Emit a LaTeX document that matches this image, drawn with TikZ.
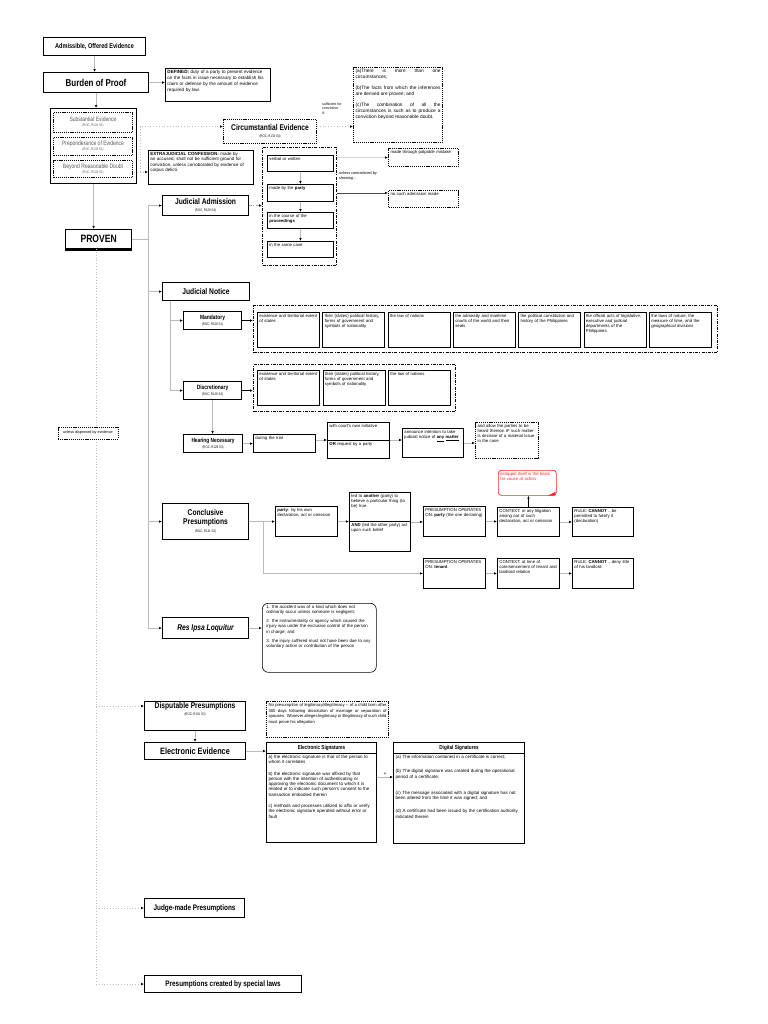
\documentclass[tikz,border=0pt]{standalone}
\usepackage{fontspec}
\setmainfont{Liberation Sans}
\newfontfamily\narrowfont{Liberation Sans}[FakeStretch=0.8]
\usetikzlibrary{arrows.meta,calc}
\hyphenpenalty=10000
\exhyphenpenalty=10000

\newcommand{\rocref}[1]{{\mdseries\fontsize{3.6}{4.2}\selectfont #1}}

\tikzset{
	conn/.style={draw=gray!55, line width=0.8bp, -{Latex[length=3bp,width=2.6bp,color=black]}},
	plain/.style={draw=gray!55, line width=0.8bp},
	dotconn/.style={draw=gray!50, line width=0.8bp, dotted, -{Latex[length=3bp,width=2.6bp,color=black]}},
	dotbox/.style={dash pattern=on 1.2bp off 0.9bp},
	dashdotbox/.style={dash pattern=on 3bp off 1.2bp on 1bp off 1.2bp},
	head/.style={draw, line width=1.1bp, anchor=north west, align=center, inner sep=1bp, font=\narrowfont\bfseries\fontsize{8.4}{9}\selectfont},
	cell/.style={draw, line width=0.9bp, anchor=north west, inner sep=2bp, align=left, text height=3bp, font=\fontsize{4.3}{5}\selectfont},
	stdbox/.style={draw, line width=1bp, dotbox, anchor=north west, minimum width=79bp, align=center, inner sep=0.5bp, text=gray!70!black, font=\narrowfont\fontsize{6.3}{6.6}\selectfont},
}

\begin{document}
\begin{tikzpicture}[x=1bp, y=-1bp]
	\fill[white] (0,0) rectangle (768,1024);
	\useasboundingbox (0,0) rectangle (768,1024);

	% burden of proof
	\node[head, font=\narrowfont\bfseries\fontsize{7}{8}\selectfont, minimum width=102bp, minimum height=18bp] (adm) at (43,37) {Admissible, Offered Evidence};
	\node[head, font=\narrowfont\bfseries\fontsize{10}{11}\selectfont, minimum width=105bp, minimum height=20bp] (bop) at (43,72) {Burden of Proof};
	\node[cell, font=\fontsize{4.6}{5.9}\selectfont, text width=101bp, text depth=26bp] (defined) at (165,68) {\textbf{DEFINED:} duty of a party to present evidence on the facts in issue necessary to establish his claim or defense by the amount of evidence required by law.};

	\node[draw, line width=1.2bp, anchor=north west, minimum width=86bp, minimum height=75bp] (stdgroup) at (50,108) {};
	\node[stdbox, minimum height=20bp] (subst) at (53,112) {Substantial Evidence\\[-1.5bp]\rocref{(ROC, R133 S5)}};
	\node[stdbox, minimum height=18bp] (prepon) at (53,137) {Preponderance of Evidence\\[-1.5bp]\rocref{(ROC, R133 S1)}};
	\node[stdbox, minimum height=17bp] (beyond) at (53,160) {Beyond Reasonable Doubt\\[-1.5bp]\rocref{(ROC, R133 S2)}};

	\node[head, dotbox, minimum width=93bp, minimum height=24bp] (circ) at (223,119) {Circumstantial Evidence\\[-2bp]\rocref{(ROC, R133 S4)}};
	\node[anchor=north west, inner sep=0pt, align=left, font=\fontsize{3.6}{4.2}\selectfont] (suffic) at (322,103) {sufficient for\\conviction\\if:};
	\node[cell, dotbox, line width=1.1bp, align=justify, font=\fontsize{4.8}{5.6}\selectfont, text width=85bp, text depth=68bp] (circreq) at (353,67) {(a)There is more than one circumstances;\\[6bp](b)The facts from which the inferences are derived are proven; and\\[6bp](c)The combination of all the circumstances is such as to produce a conviction beyond reasonable doubt.};
	\node[cell, font=\fontsize{4.5}{5.4}\selectfont, text width=101bp, text depth=27bp] (extra) at (148,150) {\textbf{EXTRAJUDICIAL CONFESSION:} made by an accused, shall not be sufficient ground for conviction, unless corroborated by evidence of corpus delicti.};

	% judicial admission
	\node[head, minimum width=86bp, minimum height=20bp] (jadm) at (162,195) {Judicial Admission\\[-2bp]\rocref{(ROC, R129 S4)}};
	\node[draw, dashdotbox, line width=1.1bp, anchor=north west, minimum width=74bp, minimum height=118bp] (admgroup) at (262,147) {};
	\node[cell, text width=62bp, text depth=9bp] (a1) at (267,155) {verbal or written};
	\node[cell, text width=62bp, text depth=10bp] (a2) at (267,184) {made by the \textbf{party}};
	\node[cell, text width=62bp, text depth=9bp] (a3) at (267,212) {in the course of the\\\textbf{proceedings}};
	\node[cell, text width=62bp, text depth=9bp] (a4) at (267,241) {in the same case};
	\node[cell, dotbox, line width=1.1bp, text width=66bp, text depth=11bp] (mistake) at (388,148) {made through palpable mistake};
	\node[cell, dotbox, line width=1.1bp, text width=66bp, text depth=10bp] (nosuch) at (388,190) {no such admission made};
	\node[anchor=north west, inner sep=0pt, align=left, font=\fontsize{3.8}{4.4}\selectfont] (unlesscon) at (339,172) {unless contradicted by\\showing...};

	\node[head, font=\narrowfont\bfseries\fontsize{10.7}{12}\selectfont, line width=1.3bp, minimum width=66bp, minimum height=19bp] (proven) at (65,229) {PROVEN};
	\draw[line width=2.4bp] (proven.south west) -- (proven.south east);

	% judicial notice
	\node[head, minimum width=87bp, minimum height=18bp] (jnot) at (162,282) {Judicial Notice};
	\node[head, font=\narrowfont\bfseries\fontsize{6.2}{7}\selectfont, minimum width=58bp, minimum height=18bp] (mand) at (183,311) {Mandatory\\[-1.5bp]\rocref{(ROC, R129 S1)}};
	\node[draw, dashdotbox, line width=1.1bp, anchor=north west, minimum width=464bp, minimum height=47bp] (mandgroup) at (253,305) {};
	\foreach \txt [count=\i from 0] in {{existence and territorial extent of states}, {their (states) political history, forms of government and symbols of nationality}, {the law of nations}, {the admiralty and maritime courts of the world and their seals}, {the political constitution and history of the Philippines}, {the official acts of legislative, executive and judicial departments of the Philippines.}, {the laws of nature, the measure of time, and the geographical divisions}}
		\node[cell, text width=58bp, text depth=28bp] (m\i) at ({257+65.3*\i},312) {\txt};

	\node[head, font=\narrowfont\bfseries\fontsize{6.2}{7}\selectfont, minimum width=58bp, minimum height=18bp] (disc) at (183,381) {Discretionary\\[-1.5bp]\rocref{(ROC, R129 S2)}};
	\node[draw, dashdotbox, line width=1.1bp, anchor=north west, minimum width=202bp, minimum height=47bp] (discgroup) at (253,364) {};
	\foreach \txt [count=\i from 0] in {{existence and territorial extent of states}, {their (states) political history, forms of government and symbols of nationality}, {the law of nations}}
		\node[cell, text width=58bp, text depth=28bp] (d\i) at ({257+65.5*\i},370) {\txt};

	\node[head, font=\narrowfont\bfseries\fontsize{6}{7}\selectfont, minimum width=59bp, minimum height=18bp] (hear) at (183,434) {Hearing Necessary\\[-1.5bp]\rocref{(ROC, R129 S3)}};
	\node[cell, text width=58bp, text depth=11bp] (trial) at (253,434) {during the trial};
	\node[cell, text width=58bp, text depth=11bp] (initA) at (327,422) {with court's own initiative};
	\node[cell, text width=58bp, text depth=11bp] (initB) at (327,440) {\textbf{OR} request by a party};
	\node[cell, text width=57bp, text depth=22bp] (announce) at (402,428) {announce intention to take judicial notice of \underline{\textbf{any}} \underline{\textbf{matter}}};
	\node[cell, dotbox, line width=1.1bp, text width=59bp, text depth=29bp] (allow) at (475,422) {and allow the parties to be heard thereon IF such matter is decisive of a material issue in the case};

	% conclusive presumptions
	\node[cell, draw=red!85, text=red!85, rounded corners=3bp, line width=0.7bp, text width=54bp, text depth=18bp] (estop) at (498,470) {estoppel itself is the basis for cause of action};
	\fill[red!85] ($(estop.south east)+(-9,0)$) -- ($(estop.south east)+(-1,-4)$) -- ($(estop.south east)+(-2,0)$) -- cycle;
	\node[head, minimum width=86bp, minimum height=36bp] (concl) at (162,503) {Conclusive\\Presumptions\\[-1bp]\rocref{(ROC, R131 S2)}};
	\node[cell, text width=58bp, text depth=23bp] (cparty) at (275,506) {\textbf{party}: by his own declaration, act or omission};
	\node[cell, text width=57bp, text depth=22bp] (ledA) at (349,492) {led to \textbf{another} (party) to believe a particular thing (to be) true};
	\node[cell, text width=57bp, text depth=23bp] (ledB) at (349,521) {\textbf{AND} (led the other party) act upon such belief};
	\node[cell, text width=58bp, text depth=23bp] (opparty) at (423,506) {PRESUMPTION OPERATES ON: \textbf{party} (the one declaring)};
	\node[cell, text width=58bp, text depth=22bp] (ctx1) at (497,507) {CONTEXT: in any litigation arising out of such declaration, act or omission};
	\node[cell, text width=57bp, text depth=22bp] (rule1) at (572,507) {RULE: \textbf{CANNOT} ...be permitted to falsify it (declaration)};
	\node[cell, text width=58bp, text depth=23bp] (optenant) at (423,558) {PRESUMPTION OPERATES ON: \textbf{tenant}};
	\node[cell, text width=58bp, text depth=23bp] (ctx2) at (497,558) {CONTEXT: at time of commencement of tenant and landlord relation};
	\node[cell, text width=57bp, text depth=23bp] (rule2) at (572,558) {RULE: \textbf{CANNOT} ...deny title of his landlord};

	% res ipsa loquitur
	\node[head, font=\narrowfont\bfseries\itshape\fontsize{8.4}{9}\selectfont, minimum width=86bp, minimum height=21bp] (resipsa) at (162,617) {Res Ipsa Loquitur};
	\node[cell, rounded corners=6bp, line width=0.6bp, inner xsep=4bp, font=\fontsize{4.4}{5.2}\selectfont, text width=106bp, text depth=62bp] (ripsareq) at (262,603) {1. the accident was of a kind which does not ordinarily occur unless someone is negligent;\\[4bp]2. the instrumentality or agency which caused the injury was under the exclusive control of the person in charge; and\\[4bp]3. the injury suffered must not have been due to any voluntary action or contribution of the person};

	% disputable presumptions and others
	\node[head, minimum width=101bp, minimum height=29bp] (disp) at (144,701) {Disputable Presumptions\\[-2bp]\rocref{(ROC, R131 S3)}\\[5bp]};
	\node[cell, dotbox, line width=1.1bp, align=justify, font=\fontsize{4.2}{5.6}\selectfont, text width=118bp, text depth=29bp] (nopresume) at (266,701) {No presumption of legitimacy/\allowbreak illegitimacy -- of a child born after 300 days following dissolution of marriage or separation of spouses. Whoever alleges legitimacy or illegitimacy of such child must prove his allegation};
	\node[head, font=\narrowfont\bfseries\fontsize{9.2}{10}\selectfont, minimum width=101bp, minimum height=17bp] (elev) at (144,742) {Electronic Evidence};
	\node[head, font=\narrowfont\bfseries\fontsize{5.8}{6}\selectfont, minimum width=110bp, minimum height=11bp] (esighead) at (266,742) {Electronic Signatures};
	\node[cell, line width=1.1bp, font=\fontsize{4.5}{5.3}\selectfont, text width=106bp, text depth=82bp] (esigbody) at (266,753) {a) the electronic signature is that of the person to whom it correlates\\[6bp]b) the electronic signature was affixed by that person with the intention of authenticating or approving the electronic document to which it is related or to indicate such person's consent to the transaction embodied therein\\[6bp]c) methods and processes utilized to affix or verify the electronic signature operated without error or fault};
	\node[head, font=\narrowfont\bfseries\fontsize{5.8}{6}\selectfont, minimum width=131bp, minimum height=11bp] (dsighead) at (393,742) {Digital Signatures};
	\node[cell, line width=1.1bp, font=\fontsize{4.5}{5.3}\selectfont, text width=127bp, text depth=83bp] (dsigbody) at (393,753) {(a) The information contained in a certificate is correct;\\[9bp](b) The digital signature was created during the operational period of a certificate;\\[11bp](c) The message associated with a digital signature has not been altered from the time it was signed; and\\[8bp](d) A certificate had been issued by the certification authority indicated therein};
	\node[head, font=\narrowfont\bfseries\fontsize{8}{9}\selectfont, minimum width=100bp, minimum height=19bp] (judge) at (144,898) {Judge-made Presumptions};
	\node[head, font=\narrowfont\bfseries\fontsize{8}{9}\selectfont, minimum width=157bp, minimum height=17bp] (special) at (144,975) {Presumptions created by special laws};

	% connectors
	\draw[conn] (adm.south) -- (adm.south |- bop.north);
	\draw[conn] (bop.east) -- (bop.east -| defined.west);
	\draw[conn] (bop.south) -- (bop.south |- stdgroup.north);
	\draw[conn] (stdgroup.south) -- (stdgroup.south |- proven.north);

	\coordinate (sbranch) at (140,172);
	\coordinate (circin) at ($(circ.west)+(0,-5)$);
	\coordinate (circout) at ($(circ.east)+(0,-5)$);
	\draw[gray!50, line width=0.8bp, dotted] (stdgroup.east |- sbranch) -- (sbranch);
	\draw[dotconn] (sbranch) |- (circin);
	\draw[dotconn] (sbranch) -- (sbranch -| extra.west);
	\draw[dotconn] (circout) -- (circout -| circreq.west);

	\draw[conn, draw=gray!70, dashdotbox] (jadm.east) -- (jadm.east -| admgroup.west);
	\draw[conn] (a1.south) -- (a1.south |- a2.north);
	\draw[conn] (a2.south) -- (a2.south |- a3.north);
	\draw[conn] (a3.south) -- (a3.south |- a4.north);
	\draw[conn, draw=gray!30] (admgroup.east |- mistake.west) -- (mistake.west);
	\draw[conn, draw=gray!60!black] (admgroup.east |- a2.east) -- (nosuch.west |- a2.east);

	\coordinate (trunk) at (148,0);
	\draw[plain] (proven.east) -- (trunk |- proven.east);
	\draw[plain] (trunk |- jadm.west) -- (trunk |- resipsa.west);
	\foreach \n in {jadm, jnot, concl, resipsa}
		\draw[conn] (trunk |- \n.west) -- (\n.west);

	\coordinate (ntrunk) at (170,0);
	\draw[plain] (ntrunk |- jnot.south) -- (ntrunk |- disc.west);
	\draw[conn] (ntrunk |- mand.west) -- (mand.west);
	\draw[conn] (ntrunk |- disc.west) -- (disc.west);
	\draw[conn, draw=black] (mand.east) -- (mand.east -| mandgroup.west);
	\draw[conn, draw=black] (disc.east) -- (disc.east -| discgroup.west);
	\draw[conn] (disc.south) -- (disc.south |- hear.north);
	\draw[conn] (hear.east) -- (hear.east -| trial.west);
	\draw[conn] (trial.east |- initB.north west) -- (initB.north west);
	\draw[conn] (initB.north east) -- (initB.north east -| announce.west);
	\draw[conn] (announce.east) -- (announce.east -| allow.west);

	\draw[conn] (concl.east) -- (concl.east -| cparty.west);
	\coordinate (cbranch) at (263,0);
	\draw[conn] (cbranch |- concl.east) |- (optenant.west);
	\draw[conn] (cparty.east) -- (cparty.east -| ledA.west);
	\draw[conn] (ledA.south east) -- (ledA.south east -| opparty.west);
	\draw[conn] (opparty.east) -- (opparty.east -| ctx1.west);
	\draw[conn] (ctx1.east) -- (ctx1.east -| rule1.west);
	\draw[conn, draw=black] (ctx1.north) -- (ctx1.north |- estop.south);
	\draw[conn] (optenant.east) -- (optenant.east -| ctx2.west);
	\draw[conn] (ctx2.east) -- (ctx2.east -| rule2.west);

	\draw[conn] (resipsa.east) -- (resipsa.east -| ripsareq.west);

	\coordinate (dtrunk) at (96,0);
	\coordinate (dispin) at ($(disp.north west)+(0,5)$);
	\draw[gray!50, line width=0.8bp, dotted] (dtrunk |- proven.south) -- (dtrunk |- special.west);
	\draw[dotconn] (dtrunk |- dispin) -- (dispin);
	\draw[dotconn] (dtrunk |- judge.west) -- (judge.west);
	\draw[dotconn] (dtrunk |- special.west) -- (special.west);
	\node[draw, dotbox, line width=1bp, fill=white, font=\fontsize{3.8}{4.5}\selectfont, minimum width=60bp, minimum height=12bp, inner sep=1bp] (unlessdis) at (88,433) {unless disproved by evidence};

	\draw[conn] (disp.south) -- (disp.south |- elev.north);
	\draw[conn] (elev.east) -- (elev.east -| esighead.west);
	\coordinate (sigout) at ($(esigbody.north east)+(0,24)$);
	\draw[conn] (sigout) -- (sigout -| dsigbody.west) node[midway, above, font=\fontsize{5}{5}\selectfont, inner sep=1bp] (plus) {+};
\end{tikzpicture}
\end{document}
